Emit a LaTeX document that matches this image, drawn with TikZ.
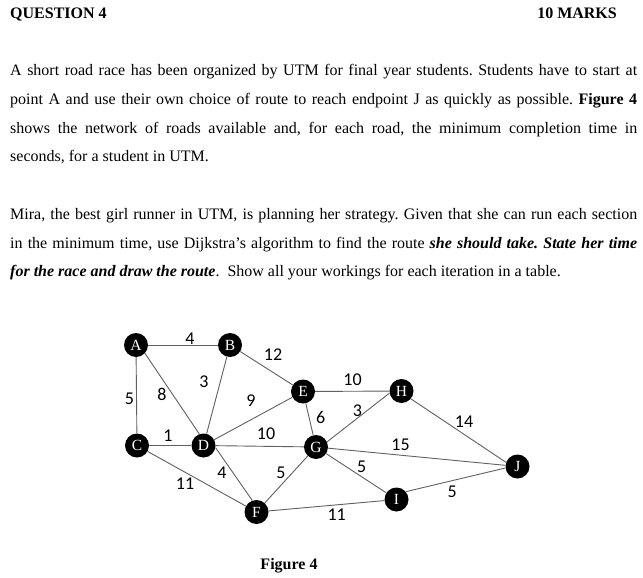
\documentclass[tikz,border=0pt]{standalone}
\usepackage{fontspec}
\setmainfont{Liberation Serif}
\newfontfamily\wtfont{Carlito}
\usepackage{tikz}
\usetikzlibrary{positioning}
\definecolor{roadgray}{RGB}{96,96,96}
\frenchspacing

\newcommand{\txtline}[1]{\makebox[627pt][s]{#1}}

\begin{document}
\begin{tikzpicture}[x=1pt, y=-1pt,
        vtx/.style={circle, fill=black, minimum size=24pt, inner sep=0pt, text=white, font=\fontsize{15.5}{15.5}\selectfont},
        road/.style={draw=roadgray, line width=0.9pt},
        wt/.style={inner sep=0pt, font=\wtfont\fontsize{18}{18}\selectfont},
        para/.style={anchor=base west, inner sep=0pt, font=\fontsize{16}{19}\selectfont},
        head/.style={anchor=base, inner sep=0pt, font=\fontsize{16}{19}\selectfont\bfseries}
    ]
    \useasboundingbox (0,0) rectangle (643,578);

    % question text
    \node[head, anchor=base west] (qno) at (10,18.3) {QUESTION 4};
    \node[head, anchor=base east] (marks) at (617,18.3) {10 MARKS};

    \node[para] (p1) at (10,75.5) {\txtline{A short road race has been organized by UTM for final year students. Students have to start at}};
    \node[para] (p2) at (10,104.3) {\txtline{point A and use their own choice of route to reach endpoint J as quickly as possible. \textbf{Figure 4}}};
    \node[para] (p3) at (10,133) {\txtline{shows the network of roads available and, for each road, the minimum completion time in}};
    \node[para] (p4) at (10,161.7) {seconds, for a student in UTM.};

    \node[para] (m1) at (10,219.5) {\txtline{Mira, the best girl runner in UTM, is planning her strategy. Given that she can run each section}};
    \node[para] (m2) at (10,248) {\txtline{in the minimum time, use Dijkstra’s algorithm to find the route \textbf{\textit{she should take. State her time}}}};
    \node[para] (m3) at (10,276.7) {\textbf{\textit{for the race and draw the route}}.\ \ Show all your workings for each iteration in a table.};

    % road network
    \node[vtx] (A) at (136,345) {A};
    \node[vtx] (B) at (230,345) {B};
    \node[vtx] (C) at (137,445.5) {C};
    \node[vtx] (D) at (203.5,445.5) {D};
    \node[vtx] (E) at (303,391.5) {E};
    \node[vtx] (H) at (401.5,391) {H};
    \node[vtx] (G) at (316,447) {G};
    \node[vtx] (F) at (256.5,512) {F};
    \node[vtx] (I) at (396.5,499.5) {I};
    \node[vtx] (J) at (517.5,466.5) {J};

    \draw[road] (A) -- (B) node[wt] at (190,339) {4};
    \draw[road] (A) -- (C) node[wt] at (129.5,399) {5};
    \draw[road] (A.-43) -- (D.110) node[wt] at (162,394) {8};
    \draw[road] (B) -- (D) node[wt] at (204,382) {3};
    \draw[road] (B) -- (E) node[wt] at (273,355) {12};
    \draw[road] (C) -- (D) node[wt] at (168,436) {1};
    \draw[road] (C) -- (F) node[wt] at (185,484) {11};
    \draw[road] (D) -- (E) node[wt] at (251,401) {9};
    \draw[road] (D) -- (G) node[wt] at (266,434) {10};
    \draw[road] (D.-10) -- (F.110) node[wt] at (222,473) {4};
    \draw[road] (F) -- (G) node[wt] at (281,473) {5};
    \draw[road] (F) -- (I) node[wt] at (336.7,514.3) {11};
    \draw[road] (E) -- (H) node[wt] at (352.5,380) {10};
    \draw[road] (E) -- (G) node[wt] at (320.7,417.5) {6};
    \draw[road] (G.25) -- (H.190) node[wt] at (357.5,410.5) {3};
    \draw[road] (G) -- (J) node[wt] at (400.5,444.5) {15};
    \draw[road] (G) -- (I) node[wt] at (361.7,466.7) {5};
    \draw[road] (H.-40) -- (J.160) node[wt] at (464,421.7) {14};
    \draw[road] (I.40) -- (J.187) node[wt] at (452.3,491.5) {5};

    \node[head] (cap) at (289,569) {Figure 4};

\end{tikzpicture}
\end{document}
